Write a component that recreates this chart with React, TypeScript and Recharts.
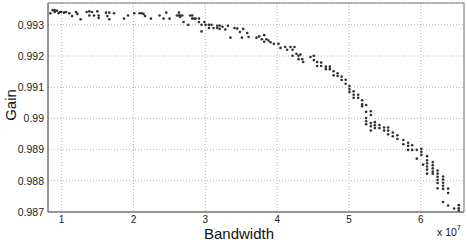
import * as React from "react";
import {
  ScatterChart,
  Scatter,
  XAxis,
  YAxis,
  CartesianGrid,
  ReferenceArea,
} from "recharts";

// bandwidth in units of 1e7 (axis shows "x 10^7"), one entry per column of dots
const bandwidthCols = [
  0.843, 0.875, 0.903, 0.936, 0.958, 0.978, 0.996, 1.033, 1.061, 1.107,
  1.145, 1.2, 1.218, 1.264, 1.348, 1.385, 1.423, 1.451, 1.497, 1.515,
  1.618, 1.636, 1.663, 1.729, 1.868, 1.924, 2.011, 2.085, 2.113, 2.14,
  2.16, 2.243, 2.363, 2.419, 2.456, 2.502, 2.605, 2.633, 2.651, 2.679,
  2.697, 2.762, 2.79, 2.818, 2.846, 2.864, 2.911, 2.947, 2.985, 3.003,
  3.05, 3.086, 3.114, 3.166, 3.2, 3.239, 3.277, 3.314, 3.35, 3.406,
  3.444, 3.481, 3.509, 3.527, 3.583, 3.601, 3.712, 3.75, 3.787, 3.819,
  3.851, 3.879, 3.907, 3.954, 4.018, 4.046, 4.111, 4.139, 4.185, 4.213,
  4.241, 4.268, 4.296, 4.324, 4.348, 4.362, 4.463, 4.51, 4.556, 4.612,
  4.677, 4.733, 4.786, 4.841, 4.897, 4.953, 5.006, 5.064, 5.127, 5.182,
  5.238, 5.303, 5.359, 5.423, 5.488, 5.544, 5.609, 5.673, 5.757, 5.822,
  5.878, 5.943, 6.007, 6.03, 6.086, 6.165, 6.232, 6.309, 6.379, 6.462,
  6.527,
];

// gain values read for each column above
const gainCols: number[][] = [
  [0.99337], [0.99347], [0.99347, 0.99341], [0.99345], [0.99337], [0.99341], [0.99341], [0.99339], [0.99341], [0.99337],
  [0.99328], [0.99341], [0.99335], [0.99318], [0.99341], [0.99343, 0.9933], [0.99341], [0.9933], [0.99343], [0.9933, 0.99322],
  [0.99339], [0.99328], [0.99339, 0.99318], [0.99337], [0.9932], [0.9933], [0.99337], [0.99337], [0.99337], [0.99335],
  [0.99328], [0.9932], [0.9933], [0.9932], [0.99339], [0.9932], [0.9933], [0.99339, 0.9933], [0.9933, 0.99325], [0.9933],
  [0.99309], [0.993], [0.9933], [0.9933, 0.9932], [0.9932], [0.9932], [0.9932, 0.99309], [0.993, 0.99279], [0.99309], [0.993],
  [0.993, 0.9929], [0.993], [0.9929], [0.99297, 0.9929], [0.99298, 0.99287], [0.99294], [0.99285], [0.99297], [0.99259], [0.9929],
  [0.99288], [0.99277], [0.99259], [0.99287], [0.99274], [0.99261], [0.99259], [0.99263], [0.99254], [0.99267, 0.99246],
  [0.99254], [0.9925], [0.99244], [0.99239], [0.99239], [0.99226], [0.99229], [0.9922], [0.99229], [0.9922, 0.99201],
  [0.99229], [0.99207], [0.99201, 0.9919], [0.99205], [0.9919], [0.99181], [0.99197], [0.99201, 0.99187], [0.99181, 0.99168], [0.99179, 0.99168],
  [0.99166, 0.99158], [0.99166, 0.99158], [0.99151, 0.99138], [0.99145, 0.99136], [0.99134, 0.99123], [0.99124, 0.99111], [0.99104, 0.99094, 0.99085], [0.99087, 0.99076, 0.99066], [0.99076, 0.99066], [0.99058, 0.99045, 0.99039],
  [0.99043, 0.99021, 0.99001, 0.98991, 0.98981], [0.99023, 0.99011, 0.98985, 0.98975, 0.98961], [0.98988, 0.98978, 0.98969], [0.98979, 0.98969], [0.98971, 0.98961], [0.98971, 0.98961, 0.98949], [0.98955, 0.98943], [0.98946, 0.98934], [0.98931, 0.98917], [0.98922, 0.98912, 0.98899],
  [0.98914, 0.98899], [0.98899, 0.98871], [0.98903, 0.98893, 0.98883], [0.98852], [0.98879, 0.98866, 0.98856, 0.98846, 0.98836, 0.98823], [0.9886, 0.9885, 0.9884, 0.9883, 0.98823], [0.98833, 0.98823, 0.98813, 0.98803, 0.98793, 0.98776], [0.98814, 0.98804, 0.98794, 0.98784, 0.98774, 0.98732], [0.98775, 0.98761, 0.98721], [0.98711],
  [0.98722, 0.98712, 0.98705],
];

const xTicks = [1, 2, 3, 4, 5, 6];
const yTicks = [0.987, 0.988, 0.989, 0.99, 0.991, 0.992, 0.993];

const X_MIN = 0.81;
const X_MAX = 6.6;
const Y_MIN = 0.987;
const Y_MAX = 0.9937;

const points = bandwidthCols.flatMap((bw, i) => gainCols[i].map((g) => ({ bw, gain: g })));

const FONT = "'Liberation Sans', Arial, sans-serif";
const tickStyle = { fontSize: 10, fill: "#222", fontFamily: FONT };

export default function App() {
  return (
    <div style={{ position: "absolute", left: 0, top: 0, width: 467, height: 240, background: "#fff", fontFamily: FONT }}>
      <ScatterChart width={467} height={240} margin={{ top: 3, right: 3, left: 0, bottom: 0 }}>
        <CartesianGrid stroke="#b5b5b5" strokeDasharray="1 2" />
        <XAxis
          type="number"
          dataKey="bw"
          domain={[X_MIN, X_MAX]}
          ticks={xTicks}
          allowDataOverflow
          height={28}
          tickLine={false}
          tickSize={0}
          axisLine={{ stroke: "#777" }}
          tick={tickStyle}
          tickMargin={3.5}
        />
        <YAxis
          type="number"
          dataKey="gain"
          domain={[Y_MIN, Y_MAX]}
          ticks={yTicks}
          allowDataOverflow
          width={48}
          tickLine={false}
          tickSize={0}
          axisLine={{ stroke: "#777" }}
          tick={{ ...tickStyle, fontSize: 10.5 }}
          tickMargin={4}
          tickFormatter={(v: number) => String(Number(v.toFixed(3)))}
        />
        <ReferenceArea x1={X_MIN} x2={X_MAX} y1={Y_MIN} y2={Y_MAX} fill="none" stroke="#777" strokeOpacity={1} />
        <Scatter
          data={points}
          isAnimationActive={false}
          shape={(p: any) => <circle cx={p.cx} cy={p.cy} r={1.3} fill="#303030" />}
        />
      </ScatterChart>
      <div style={{ position: "absolute", left: 0, top: 0, width: 467, height: 240, pointerEvents: "none", color: "#111" }}>
        <div
          style={{
            position: "absolute",
            left: 239,
            top: 225.5,
            transform: "translateX(-50%)",
            fontSize: 15,
            lineHeight: 1,
            whiteSpace: "nowrap",
          }}
        >
          Bandwidth
        </div>
        <div
          style={{
            position: "absolute",
            left: 10,
            top: 105,
            transform: "translate(-50%, -50%) rotate(-90deg)",
            fontSize: 15,
            lineHeight: 1,
            whiteSpace: "nowrap",
          }}
        >
          Gain
        </div>
        <div style={{ position: "absolute", left: 437, top: 227, fontSize: 10.5, lineHeight: 1, whiteSpace: "nowrap" }}>
          x 10<sup style={{ fontSize: 7.5, verticalAlign: "top", position: "relative", top: -3 }}>7</sup>
        </div>
      </div>
    </div>
  );
}
